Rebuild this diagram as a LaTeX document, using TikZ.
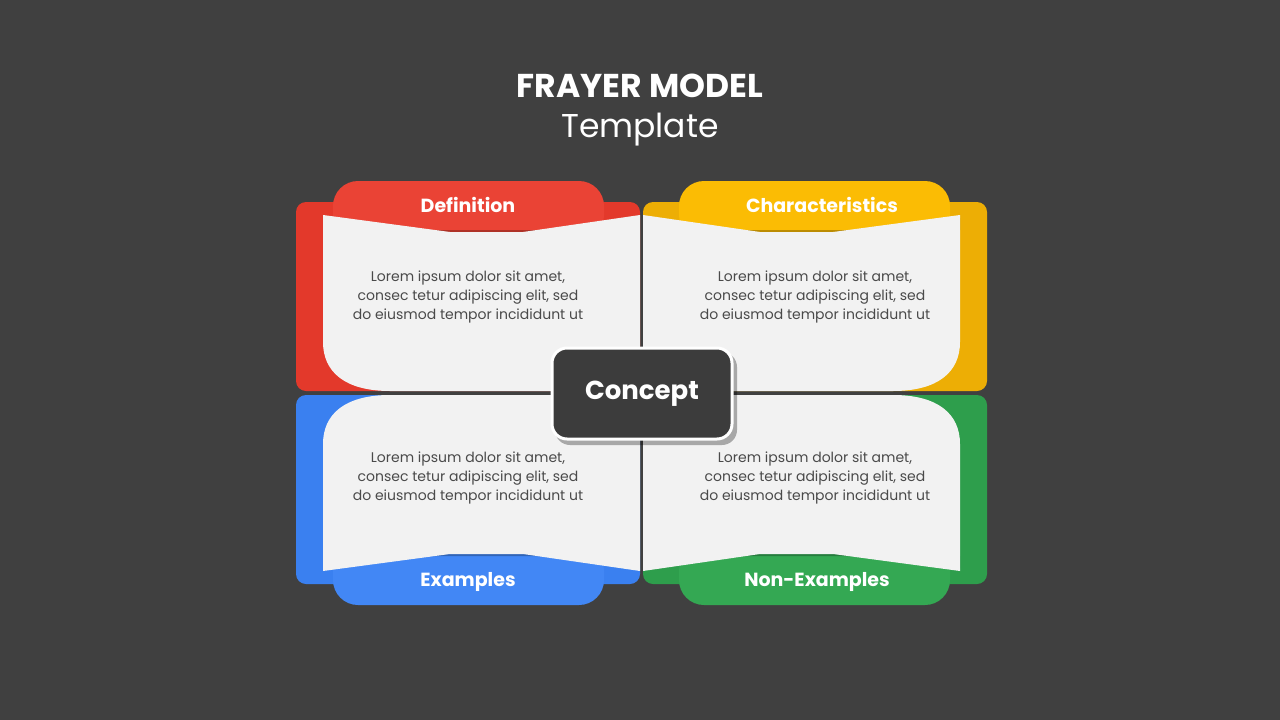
\documentclass[tikz,border=0pt]{standalone}
\usepackage{fontspec}
\setmainfont{Poppins}
\definecolor{bg}{HTML}{404040}
\definecolor{panel}{HTML}{F2F2F2}
\definecolor{bodytxt}{HTML}{4A4A4A}
\definecolor{redA}{HTML}{E3392B}\definecolor{redB}{HTML}{EA4335}
\definecolor{yelA}{HTML}{EDAE05}\definecolor{yelB}{HTML}{FBBC04}
\definecolor{bluA}{HTML}{3A80F0}\definecolor{bluB}{HTML}{4287F5}
\definecolor{grnA}{HTML}{2E9E4C}\definecolor{grnB}{HTML}{34A853}
\definecolor{conc}{HTML}{3C3C3C}
\tikzset{
  body/.style={text=bodytxt,font=\fontsize{14}{19}\selectfont,align=center},
  lab/.style={text=white,font=\fontsize{19}{22}\selectfont\bfseries},
}
\newcommand{\quadrant}[2]{%
  \fill[#1,rounded corners=10] (296,202) rectangle (640,391);
  \fill[#2,rounded corners=25] (333,240) rectangle (604,181);
  \fill[black,opacity=0.25] (323,218) -- (450,236) -- (523,236) -- (640,218) -- (640,230) -- (323,230) -- cycle;
  \fill[panel] (323,215) -- (450,232) -- (523,232) -- (640,215) -- (640,391) -- (390,391) .. controls (345,391) and (323,372) .. (323,342) -- cycle;
}
\begin{document}
\begin{tikzpicture}[x=1pt,y=-1pt]
\fill[bg] (0,0) rectangle (1280,720);
\useasboundingbox (0,0) rectangle (1280,720);
\node[text=white,font=\fontsize{33}{36}\selectfont\bfseries] (t1) at (640,86) {FRAYER MODEL};
\node[text=white,font=\fontsize{33}{36}\selectfont] (t2) at (640,130) {Template};
\begin{scope}\quadrant{redA}{redB}\end{scope}
\begin{scope}[shift={(1283,0)},xscale=-1]\quadrant{yelA}{yelB}\end{scope}
\begin{scope}[shift={(0,786)},yscale=-1]\quadrant{bluA}{bluB}\end{scope}
\begin{scope}[shift={(1283,786)},xscale=-1,yscale=-1]\quadrant{grnA}{grnB}\end{scope}
\node[lab] (l1) at (468,205) {Definition};
\node[lab] (l2) at (822,205) {Characteristics};
\node[lab] (l3) at (468,582) {Examples};
\node[lab] (l4) at (817,582) {Non-Examples};
\node[body] (b1) at (468,297) {Lorem ipsum dolor sit amet,\\consec tetur adipiscing elit, sed\\do eiusmod tempor incididunt ut};
\node[body] (b2) at (815,297) {Lorem ipsum dolor sit amet,\\consec tetur adipiscing elit, sed\\do eiusmod tempor incididunt ut};
\node[body] (b3) at (468,478) {Lorem ipsum dolor sit amet,\\consec tetur adipiscing elit, sed\\do eiusmod tempor incididunt ut};
\node[body] (b4) at (815,478) {Lorem ipsum dolor sit amet,\\consec tetur adipiscing elit, sed\\do eiusmod tempor incididunt ut};
\fill[black,opacity=0.3,rounded corners=15] (555,352) rectangle (737,445);
\node[draw=white,line width=3,fill=conc,rounded corners=15,minimum width=180,minimum height=91,text=white,font=\fontsize{26}{30}\selectfont\bfseries] (c) at (642,393.5) {Concept};
\end{tikzpicture}
\end{document}
